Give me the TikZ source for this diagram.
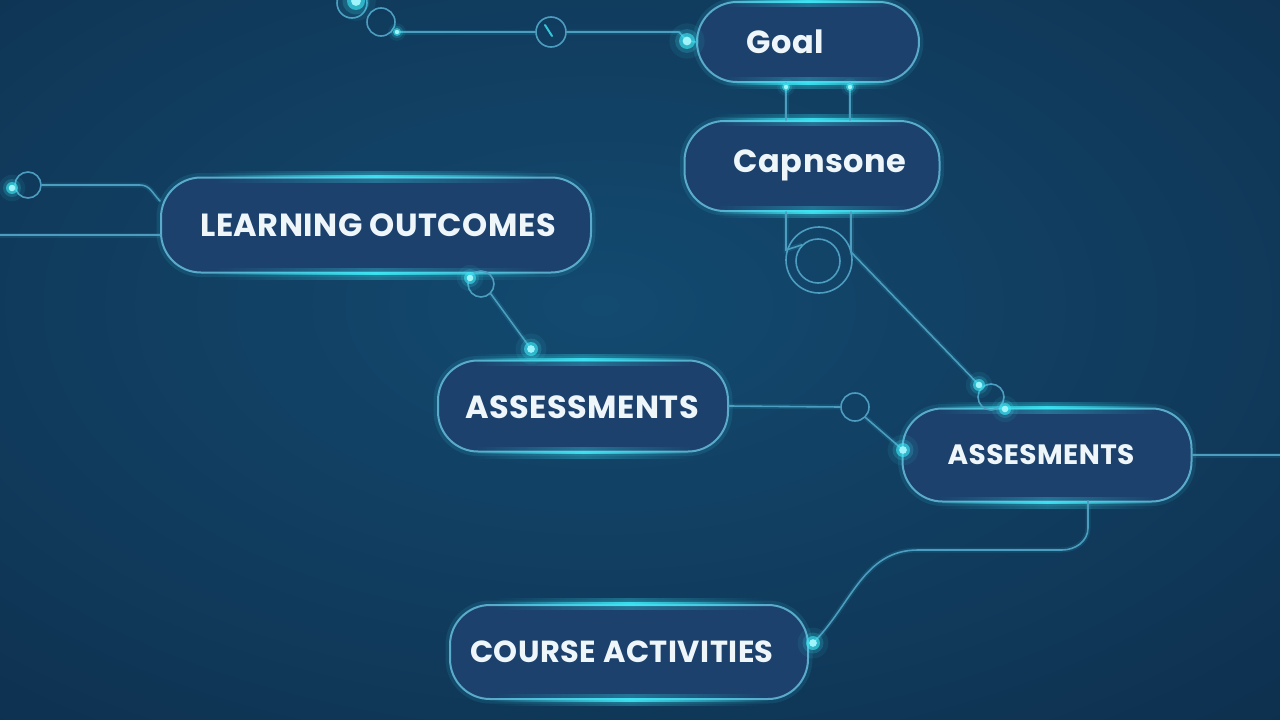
\documentclass[tikz,border=0pt]{standalone}
\usepackage{fontspec}
\setmainfont{Poppins}
\usetikzlibrary{fadings,calc}
\definecolor{bgin}{HTML}{134A70}
\definecolor{bgmid}{HTML}{0E3150}
\definecolor{bgout}{HTML}{091A2C}
\definecolor{boxfill}{HTML}{1B416C}
\definecolor{boxedge}{HTML}{5AAACB}
\definecolor{wirec}{HTML}{4C9DC0}
\definecolor{glowc}{HTML}{3DE8F6}
\definecolor{txtc}{HTML}{EEF6FA}
\pgfdeclareradialshading{bgshade}{\pgfpoint{0bp}{0bp}}{color(0bp)=(bgin); color(30bp)=(bgmid); color(71bp)=(bgout)}
\tikzfading[name=hfade, left color=transparent!100, right color=transparent!100, middle color=transparent!0]
\tikzset{
  box/.style={draw=boxedge, line width=2pt, fill=boxfill, rounded corners=40pt, inner sep=0pt,
    preaction={draw=glowc, draw opacity=0.10, line width=9pt}},
  lbl/.style={text=txtc, inner sep=0pt, font=\bfseries\fontsize{#1}{34}\selectfont\addfontfeatures{LetterSpace=1.5}},
  lbl/.default=32,
  wire/.style={draw=wirec, line width=1.6pt, line cap=round,
    preaction={draw=glowc, draw opacity=0.10, line width=5pt}},
  ring/.style={circle, draw=wirec, line width=1.6pt, inner sep=0pt, minimum size=#1},
  ring/.default=28pt
}
\newcommand\gdot[2]{%
  \fill[glowc, opacity=0.08] (#1) circle (#2*2.2pt);
  \fill[glowc, opacity=0.18] (#1) circle (#2*1.5pt);
  \fill[glowc, opacity=0.6] (#1) circle (#2*1.0pt);
  \fill[glowc!50!white] (#1) circle (#2*0.55pt);}
\newcommand\boxhl[1]{%
  \foreach \ed in {north,south}{
    \coordinate (hla) at ($(#1.\ed\space west)!0.12!(#1.\ed\space east)$);
    \coordinate (hlb) at ($(#1.\ed\space west)!0.88!(#1.\ed\space east)$);
    \fill[glowc, path fading=hfade, opacity=0.30] ([yshift=-6pt]hla) rectangle ([yshift=6pt]hlb);
    \fill[glowc, path fading=hfade, opacity=0.9] ([yshift=-1.8pt]hla) rectangle ([yshift=1.8pt]hlb);
  }}
\begin{document}
\begin{tikzpicture}[x=1pt,y=-1pt]
\useasboundingbox (0,0) rectangle (1280,720);
\shade[shading=bgshade] (-200,-150) rectangle (1400,760);
% ---------- boxes
\node[box, minimum width=222pt, minimum height=80pt] (goal) at (808,42) {};
\node[box, minimum width=255pt, minimum height=90pt] (cap) at (812,166) {};
\node[box, minimum width=430pt, minimum height=95pt] (lo) at (376,225) {};
\node[box, minimum width=290pt, minimum height=91pt] (asl) at (583,406) {};
\node[box, minimum width=289pt, minimum height=93pt] (asr) at (1047,455) {};
\node[box, minimum width=358pt, minimum height=94pt] (ca) at (629,652) {};
\boxhl{goal}\boxhl{cap}\boxhl{lo}\boxhl{asl}\boxhl{asr}\boxhl{ca}
% ---------- labels
\node[lbl] (goalt) at (785,42) {Goal};
\node[lbl] (capt) at (820,165) {Capnsone};
\node[lbl] (lot) at (378,225) {LEARNING OUTCOMES};
\node[lbl] (aslt) at (582,407) {ASSESSMENTS};
\node[lbl=28] (asrt) at (1041,455) {ASSESMENTS};
\node[lbl=30.5] (cat) at (622,652) {COURSE ACTIVITIES};
% ---------- top chain
\node[ring=30pt] (tr0) at (352,3) {};
\node[ring=28pt] (tr1) at (381,22) {};
\coordinate (t1) at (397,32);
\node[ring=30pt] (tr2) at (551,32) {};
\coordinate (t2) at (679,32);
\coordinate (t3) at (687,41);
\draw[wire] (t1) -- (tr2.west);
\draw[wire] (tr2.east) -- (t2) -- (t3);
\draw[wire] (t3) -- (goal.west);
\draw[glowc, line width=2pt, line cap=round, opacity=0.8] (545,25) -- (552,36);
\gdot{356,1}{9}
\gdot{t1}{4}
\gdot{t3}{8}
% ---------- goal - capstone
\coordinate (g1) at ([xshift=-22pt]goal.south);
\coordinate (g2) at ([xshift=42pt]goal.south);
\draw[wire] (g1) -- (g1 |- cap.north);
\draw[wire] (g2) -- (g2 |- cap.north);
\gdot{[yshift=-4pt]g1}{4}
\gdot{[yshift=-4pt]g2}{4}
% ---------- capstone bottom
\node[ring=66pt] (cr1) at (819,260) {};
\node[ring=44pt] (cr2) at (818,261) {};
\coordinate (c1) at ([xshift=-26pt]cap.south);
\coordinate (c2) at ([xshift=39pt]cap.south);
\draw[wire] (c1) -- ++(0,38) -- (cr2.north west);
\draw[wire] (c2) -- ++(0,40);
\node[ring=26pt] (rr) at (991,397) {};
\draw[wire] (c2) ++(0,40) -- (rr.north west);
\gdot{979,385}{6}
\gdot{1005,409}{6}
% ---------- learning outcomes left
\node[ring=26pt] (lr) at (28,185) {};
\gdot{12,188}{6}
\draw[wire] (lr.east) -- (140,185) to[out=0,in=135] ([yshift=24pt]lo.west);
\coordinate (l0) at (0,235);
\draw[wire] (l0) -- (l0 -| lo.west);
% ---------- learning outcomes -> assessments
\node[ring=26pt] (lb) at (481,284) {};
\coordinate (a1) at (531,349);
\draw[wire] (lb.south east) -- (a1);
\gdot{470,278}{6}
\gdot{a1}{7}
% ---------- assessments -> assesments
\node[ring=28pt] (mr) at (855,407) {};
\coordinate (m1) at (903,450);
\draw[wire] (asl.east) -- (mr.west);
\draw[wire] (mr.south east) -- (m1);
\gdot{m1}{7}
% ---------- assesments right + bottom
\coordinate (e1) at (1280,455);
\draw[wire] (asr.east) -- (e1);
\coordinate (b0) at (1088,501);
\coordinate (ca1) at (813,643);
\draw[wire] (b0) -- (1088,528) to[out=270,in=0] (1062,550) -- (918,550) to[out=180,in=45] (ca1);
\gdot{ca1}{7}
\end{tikzpicture}
\end{document}
